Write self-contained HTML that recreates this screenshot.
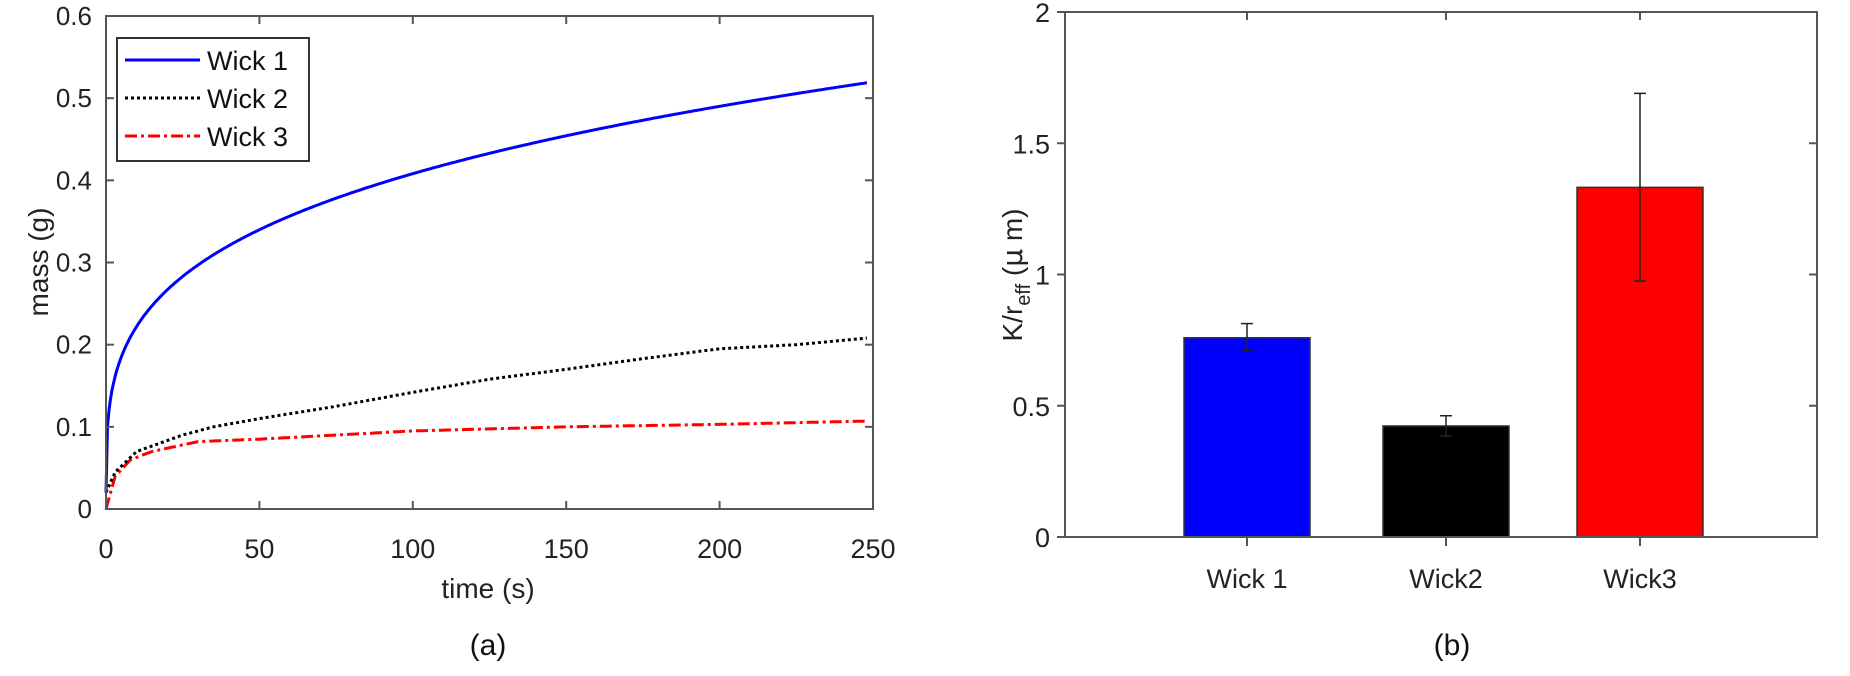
<!DOCTYPE html>
<html><head><meta charset="utf-8"><style>
html,body{margin:0;padding:0;background:#fff;}
svg{display:block;font-family:"Liberation Sans",Arial,sans-serif;}
</style></head><body>
<svg id="s" width="1850" height="676" viewBox="0 0 1850 676" xmlns="http://www.w3.org/2000/svg">
<rect width="1850" height="676" fill="#fff"/>
<g id="L"></g>
<g id="R"></g>
</svg>
<script>
const NS="http://www.w3.org/2000/svg";
function el(p,t,a,txt){const e=document.createElementNS(NS,t);for(const k in a)e.setAttribute(k,a[k]);if(txt!==undefined)e.textContent=txt;p.appendChild(e);return e;}
const L=document.getElementById('L'),R=document.getElementById('R');
const x0=106,x1=873,yT=16,yB=509;
const X=t=>x0+t*(x1-x0)/250, Y=m=>yB-m*(yB-yT)/0.6;
function lin(pts,t){for(let i=0;i<pts.length-1;i++){if(t<=pts[i+1][0]){const a=pts[i],b=pts[i+1];return a[1]+(b[1]-a[1])*(t-a[0])/(b[0]-a[0]);}}return pts[pts.length-1][1];}
let p1=[],p2=[],p3=[];
const w2=[[0,0.02],[3,0.045],[10,0.07],[25,0.09],[35,0.1],[50,0.11],[75,0.125],[100,0.142],[125,0.158],[150,0.17],[175,0.183],[200,0.195],[225,0.2],[248,0.208]];
const w3=[[0,0.0],[3,0.04],[8,0.06],[15,0.07],[30,0.082],[50,0.085],[75,0.09],[100,0.095],[150,0.1],[200,0.103],[248,0.107]];
for(let t=0;t<=248;t+=0.5){
 let m1=t<0.5?0.02:Math.max(0.02,0.121*Math.pow(t,0.264));
 p1.push(X(t).toFixed(1)+','+Y(m1).toFixed(1));
 p2.push(X(t).toFixed(1)+','+Y(lin(w2,t)).toFixed(1));
 p3.push(X(t).toFixed(1)+','+Y(lin(w3,t)).toFixed(1));
}
el(L,'polyline',{points:p3.join(' '),fill:'none',stroke:'#ff0000','stroke-width':3,'stroke-dasharray':'12,4,3,4'});
el(L,'polyline',{points:p2.join(' '),fill:'none',stroke:'#000','stroke-width':3,'stroke-dasharray':'3,3'});
el(L,'polyline',{points:p1.join(' '),fill:'none',stroke:'#0000ff','stroke-width':3});
el(L,'rect',{x:x0,y:yT,width:x1-x0,height:yB-yT,fill:'none',stroke:'#555','stroke-width':2});
for(let i=0;i<=6;i++){const y=Y(i/10);
 el(L,'line',{x1:x0,y1:y,x2:x0+8,y2:y,stroke:'#555','stroke-width':2});
 el(L,'line',{x1:x1,y1:y,x2:x1-8,y2:y,stroke:'#555','stroke-width':2});
 el(L,'text',{x:92,y:y+9,'font-size':26,'text-anchor':'end',fill:'#222'},i==0?'0':(i/10).toFixed(1));}
for(let i=0;i<=5;i++){const x=X(i*50);
 el(L,'line',{x1:x,y1:yB,x2:x,y2:yB-8,stroke:'#555','stroke-width':2});
 el(L,'line',{x1:x,y1:yT,x2:x,y2:yT+8,stroke:'#555','stroke-width':2});
 el(L,'text',{x:x,y:558,'font-size':27,'text-anchor':'middle',fill:'#222'},String(i*50));}
el(L,'text',{x:488,y:598,'font-size':28,'text-anchor':'middle',fill:'#222'},'time (s)');
el(L,'text',{x:0,y:0,'font-size':28,'text-anchor':'middle',fill:'#222',transform:'translate(48,262) rotate(-90)'},'mass (g)');
el(L,'text',{x:488,y:655,'font-size':30,'text-anchor':'middle',fill:'#111'},'(a)');
el(L,'rect',{x:117,y:38,width:192,height:123,fill:'#fff',stroke:'#333','stroke-width':2});
el(L,'line',{x1:125,y1:60,x2:200,y2:60,stroke:'#0000ff','stroke-width':3});
el(L,'line',{x1:125,y1:98,x2:200,y2:98,stroke:'#000','stroke-width':3,'stroke-dasharray':'3,3'});
el(L,'line',{x1:125,y1:136,x2:200,y2:136,stroke:'#ff0000','stroke-width':3,'stroke-dasharray':'12,4,3,4'});
[['Wick 1',60],['Wick 2',98],['Wick 3',136]].forEach(a=>el(L,'text',{x:207,y:a[1]+10,'font-size':27,fill:'#111'},a[0]));
const rx0=1065,rx1=1817,ryT=12,ryB=537;
const RY=v=>ryB-v*(ryB-ryT)/2;
const bars=[[1247,0.759,0.709,0.813,'#0000ff','Wick 1'],[1446,0.423,0.385,0.462,'#000000','Wick2'],[1640,1.332,0.975,1.69,'#ff0000','Wick3']];
bars.forEach(b=>{
 el(R,'rect',{x:b[0]-63,y:RY(b[1]),width:126,height:ryB-RY(b[1]),fill:b[4],stroke:'#333','stroke-width':1.5});
 el(R,'line',{x1:b[0],y1:RY(b[2]),x2:b[0],y2:RY(b[3]),stroke:'#222','stroke-width':1.5});
 el(R,'line',{x1:b[0]-6,y1:RY(b[2]),x2:b[0]+6,y2:RY(b[2]),stroke:'#222','stroke-width':1.5});
 el(R,'line',{x1:b[0]-6,y1:RY(b[3]),x2:b[0]+6,y2:RY(b[3]),stroke:'#222','stroke-width':1.5});
 el(R,'line',{x1:b[0],y1:ryB,x2:b[0],y2:ryB+9,stroke:'#555','stroke-width':2});
 el(R,'line',{x1:b[0],y1:ryT,x2:b[0],y2:ryT+8,stroke:'#555','stroke-width':2});
 el(R,'text',{x:b[0],y:588,'font-size':27,'text-anchor':'middle',fill:'#222'},b[5]);
});
el(R,'rect',{x:rx0,y:ryT,width:rx1-rx0,height:ryB-ryT,fill:'none',stroke:'#555','stroke-width':2});
[0,0.5,1,1.5,2].forEach(v=>{const y=RY(v);
 el(R,'line',{x1:rx0-8,y1:y,x2:rx0,y2:y,stroke:'#555','stroke-width':2});
 el(R,'line',{x1:rx1,y1:y,x2:rx1-8,y2:y,stroke:'#555','stroke-width':2});
 el(R,'text',{x:1050,y:y+10,'font-size':27,'text-anchor':'end',fill:'#222'},String(v));});
const yl=el(R,'text',{x:0,y:0,'font-size':28,'text-anchor':'middle',fill:'#222',transform:'translate(1022,275) rotate(-90)'});
yl.innerHTML='K/r<tspan font-size="20" dy="8">eff</tspan><tspan dy="-8"> (</tspan><tspan font-family="DejaVu Sans">μ</tspan> m)';
el(R,'text',{x:1452,y:655,'font-size':30,'text-anchor':'middle',fill:'#111'},'(b)');
</script>
</body></html>
